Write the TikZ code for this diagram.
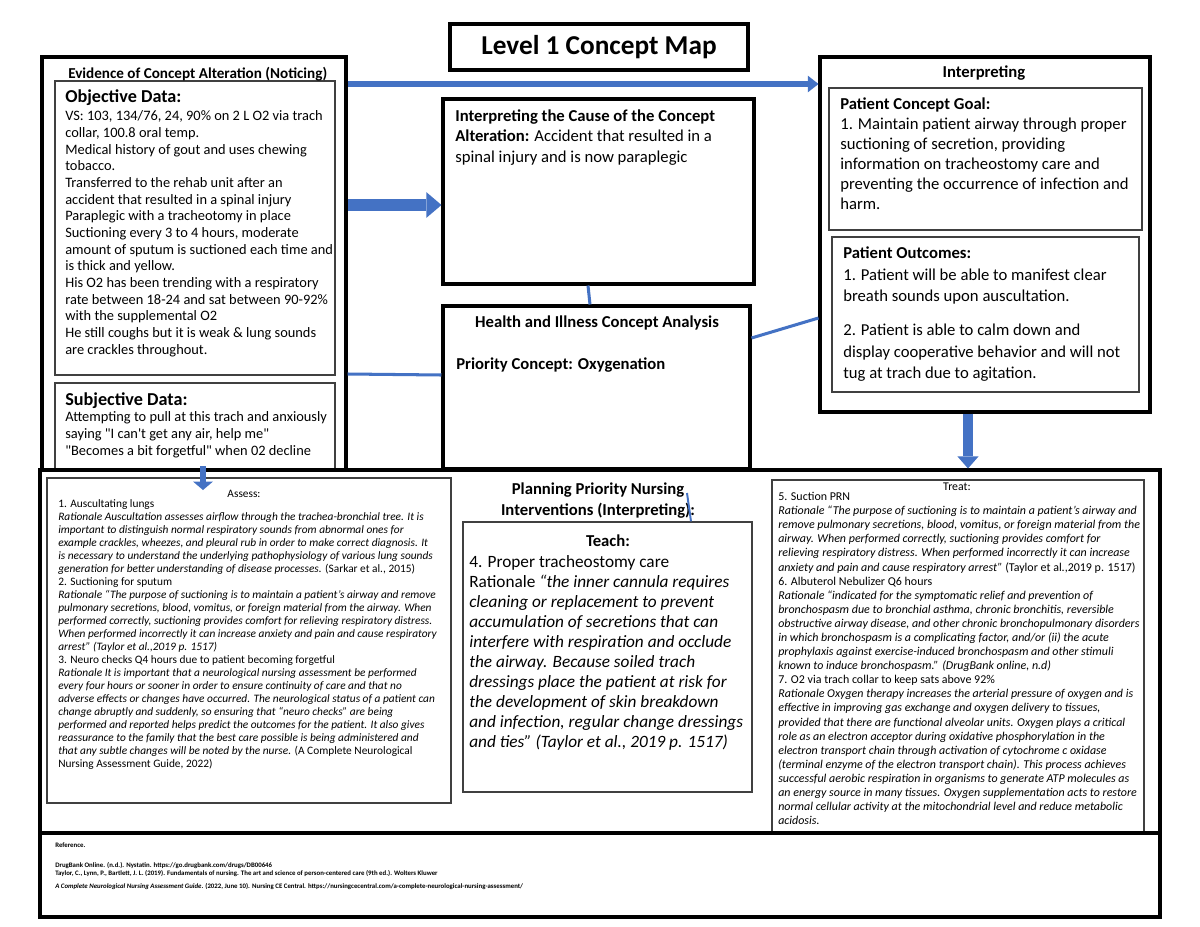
\documentclass[tikz,border=0pt]{standalone}
\usepackage{fontspec}
\setmainfont{Carlito}
\usetikzlibrary{arrows.meta,fit}
\definecolor{ofblue}{HTML}{4472C4}
\newcommand\fs[2]{\fontsize{#1}{#2}\selectfont}
\newcommand\sq{\textquotedbl}
\tikzset{
  thickbox/.style={draw=black, line width=2pt, inner sep=0pt},
  thinbox/.style={draw=black!75, line width=0.9pt, inner sep=0pt},
  txt/.style={inner sep=0pt, anchor=north west, align=left},
  lbl/.style={inner sep=0pt, anchor=west},
  conn/.style={draw=ofblue, line width=2pt},
  bigarrow/.style={draw=ofblue, line width=4pt, -{Triangle[length=7pt,width=11pt,line width=0pt]}},
  midarrow/.style={draw=ofblue, line width=8pt, -{Triangle[length=10pt,width=17pt,line width=0pt]}},
  downarrow/.style={draw=ofblue, line width=6pt, -{Triangle[length=8pt,width=14pt,line width=0pt]}},
  smallarrow/.style={draw=ofblue, line width=4.5pt, -{Triangle[length=5.5pt,width=13pt,line width=0pt]}},
}
\begin{document}
\begin{tikzpicture}[x=0.66pt,y=-0.66pt]
\useasboundingbox[fill=white] (0,0) rectangle (1200,927);

% ---------- boxes ----------
\path (450,24) coordinate (t1) (748,70) coordinate (t2);
\node[thickbox, fit=(t1)(t2)] (titlebox) {};
\path (42,57) coordinate (e1) (346,470) coordinate (e2);
\node[thickbox, fit=(e1)(e2)] (evid) {};
\path (55,81) coordinate (o1) (335,375) coordinate (o2);
\node[thinbox, fit=(o1)(o2)] (obj) {};
\path (55,383) coordinate (s1) (335,470) coordinate (s2);
\node[thinbox, fit=(s1)(s2)] (subj) {};
\path (443,99) coordinate (c1) (754,284) coordinate (c2);
\node[thickbox, fit=(c1)(c2)] (cause) {};
\path (443,306) coordinate (h1) (750,469) coordinate (h2);
\node[thickbox, fit=(h1)(h2)] (health) {};
\path (820,57) coordinate (i1) (1150,412) coordinate (i2);
\node[thickbox, fit=(i1)(i2)] (interp) {};
\path (829,88) coordinate (g1) (1142,230) coordinate (g2);
\node[thinbox, fit=(g1)(g2)] (goal) {};
\path (832,237) coordinate (u1) (1139,392) coordinate (u2);
\node[thinbox, fit=(u1)(u2)] (outc) {};
\path (40,470) coordinate (b1) (1160,833) coordinate (b2);
\node[thickbox, fit=(b1)(b2)] (bottom) {};
\path (47,478) coordinate (a1) (451,803) coordinate (a2);
\node[thinbox, fit=(a1)(a2)] (assess) {};
\path (463,522) coordinate (k1) (752,792) coordinate (k2);
\node[thinbox, fit=(k1)(k2)] (teach) {};
\path (772,480) coordinate (r1) (1144,833) coordinate (r2);
\node[thinbox, fit=(r1)(r2)] (treat) {};
\path (40,833) coordinate (f1) (1160,917) coordinate (f2);
\node[thickbox, fit=(f1)(f2)] (refbox) {};

% ---------- texts ----------
\node[inner sep=0pt, font=\fs{18}{22}\bfseries] (title) at (titlebox.center) {Level 1 Concept Map};

\node[lbl, font=\fs{10}{12}\bfseries] (evidtitle) at (68,74) {Evidence of Concept Alteration (Noticing)};
\node[lbl, font=\fs{12}{14}\bfseries] (objhead) at (65,98) {Objective Data:};
\node[txt, font=\fs{9.5}{11}] (objbody) at (65,110.5) {VS: 103, 134/76, 24, 90\% on 2 L O2 via trach\\
collar, 100.8 oral temp.\\
Medical history of gout and uses chewing\\
tobacco.\\
Transferred to the rehab unit after an\\
accident that resulted in a spinal injury\\
Paraplegic with a tracheotomy in place\\
Suctioning every 3 to 4 hours, moderate\\
amount of sputum is suctioned each time and\\
is thick and yellow.\\
His O2 has been trending with a respiratory\\
rate between 18-24 and sat between 90-92\%\\
with the supplemental O2\\
He still coughs but it is weak \& lung sounds\\
are crackles throughout.};
\node[lbl, font=\fs{12}{14}\bfseries] (subjhead) at (65,401) {Subjective Data:};
\node[txt, font=\fs{9.5}{11}] (subjbody) at (65,411.5) {Attempting to pull at this trach and anxiously\\
saying \sq I can\textquotesingle t get any air, help me\sq\\
\sq Becomes a bit forgetful\sq\ when 02 decline};

\node[txt, font=\fs{11}{13.5}] (causetext) at (455,109.5) {\textbf{Interpreting the Cause of the Concept}\\
\textbf{Alteration:} Accident that resulted in a\\
spinal injury and is now paraplegic};

\node[inner sep=0pt, font=\fs{11}{13}\bfseries] (healthhead) at (597,323) {Health and Illness Concept Analysis};
\node[lbl, font=\fs{11}{13}\bfseries] (priority) at (456,365) {Priority Concept: Oxygenation};

\node[inner sep=0pt, font=\fs{11}{13}\bfseries] (interphead) at (984,73) {Interpreting};
\node[txt, font=\fs{11}{13.2}] (goaltext) at (840,97.5) {\textbf{Patient Concept Goal:}\\
1. Maintain patient airway through proper\\
suctioning of secretion, providing\\
information on tracheostomy care and\\
preventing the occurrence of infection and\\
harm.};
\node[txt, font=\fs{11}{14.3}] (outtext) at (843,246.5) {\textbf{Patient Outcomes:}\\
1. Patient will be able to manifest clear\\
breath sounds upon auscultation.\\[8pt]
2. Patient is able to calm down and\\
display cooperative behavior and will not\\
tug at trach due to agitation.};

% Assess
\node[inner sep=0pt, font=\fs{7.5}{9}] (assesshead) at (244,494) {Assess:};
\node[txt, font=\fs{7.5}{8.6}] (assessbody) at (58,499) {1. Auscultating lungs\\
\textit{Rationale Auscultation assesses airflow through the trachea-bronchial tree. It is}\\
\textit{important to distinguish normal respiratory sounds from abnormal ones for}\\
\textit{example crackles, wheezes, and pleural rub in order to make correct diagnosis. It}\\
\textit{is necessary to understand the underlying pathophysiology of various lung sounds}\\
\textit{generation for better understanding of disease processes.} (Sarkar et al., 2015)\\
2. Suctioning for sputum\\
\textit{Rationale “The purpose of suctioning is to maintain a patient’s airway and remove}\\
\textit{pulmonary secretions, blood, vomitus, or foreign material from the airway. When}\\
\textit{performed correctly, suctioning provides comfort for relieving respiratory distress.}\\
\textit{When performed incorrectly it can increase anxiety and pain and cause respiratory}\\
\textit{arrest” (Taylor et al.,2019 p. 1517)}\\
3. Neuro checks Q4 hours due to patient becoming forgetful\\
\textit{Rationale It is important that a neurological nursing assessment be performed}\\
\textit{every four hours or sooner in order to ensure continuity of care and that no}\\
\textit{adverse effects or changes have occurred. The neurological status of a patient can}\\
\textit{change abruptly and suddenly, so ensuring that “neuro checks” are being}\\
\textit{performed and reported helps predict the outcomes for the patient. It also gives}\\
\textit{reassurance to the family that the best care possible is being administered and}\\
\textit{that any subtle changes will be noted by the nurse.} (A Complete Neurological\\
Nursing Assessment Guide, 2022)};

% Planning / Teach
\node[inner sep=0pt, align=center, font=\fs{11}{13.8}\bfseries, anchor=north] (planhead) at (598,482.5) {Planning Priority Nursing\\Interventions (Interpreting):};
\node[inner sep=0pt, font=\fs{11}{13}\bfseries] (teachhead) at (608,541) {Teach:};
\node[txt, font=\fs{11.4}{13.2}] (teachbody) at (469,555) {4. Proper tracheostomy care\\
Rationale \textit{“the inner cannula requires}\\
\textit{cleaning or replacement to prevent}\\
\textit{accumulation of secretions that can}\\
\textit{interfere with respiration and occlude}\\
\textit{the airway. Because soiled trach}\\
\textit{dressings place the patient at risk for}\\
\textit{the development of skin breakdown}\\
\textit{and infection, regular change dressings}\\
\textit{and ties” (Taylor et al., 2019 p. 1517)}};

% Treat
\node[inner sep=0pt, font=\fs{7.8}{9}] (treathead) at (957,487) {Treat:};
\node[txt, font=\fs{7.9}{9.3}] (treatbody) at (778,492) {5. Suction PRN\\
\textit{Rationale “The purpose of suctioning is to maintain a patient’s airway and}\\
\textit{remove pulmonary secretions, blood, vomitus, or foreign material from the}\\
\textit{airway. When performed correctly, suctioning provides comfort for}\\
\textit{relieving respiratory distress. When performed incorrectly it can increase}\\
\textit{anxiety and pain and cause respiratory arrest”} (Taylor et al.,2019 p. 1517)\\
6. Albuterol Nebulizer Q6 hours\\
\textit{Rationale “indicated for the symptomatic relief and prevention of}\\
\textit{bronchospasm due to bronchial asthma, chronic bronchitis, reversible}\\
\textit{obstructive airway disease, and other chronic bronchopulmonary disorders}\\
\textit{in which bronchospasm is a complicating factor, and/or (ii) the acute}\\
\textit{prophylaxis against exercise-induced bronchospasm and other stimuli}\\
\textit{known to induce bronchospasm.” (DrugBank online, n.d)}\\
7. O2 via trach collar to keep sats above 92\%\\
\textit{Rationale Oxygen therapy increases the arterial pressure of oxygen and is}\\
\textit{effective in improving gas exchange and oxygen delivery to tissues,}\\
\textit{provided that there are functional alveolar units. Oxygen plays a critical}\\
\textit{role as an electron acceptor during oxidative phosphorylation in the}\\
\textit{electron transport chain through activation of cytochrome c oxidase}\\
\textit{(terminal enzyme of the electron transport chain). This process achieves}\\
\textit{successful aerobic respiration in organisms to generate ATP molecules as}\\
\textit{an energy source in many tissues. Oxygen supplementation acts to restore}\\
\textit{normal cellular activity at the mitochondrial level and reduce metabolic}\\
\textit{acidosis.}};

% References
\node[lbl, font=\fs{4.5}{5.5}\bfseries] (refhead) at (55,845) {Reference.};
\node[txt, font=\fs{4.5}{5.2}\bfseries] (refone) at (55,862) {DrugBank Online. (n.d.). Nystatin. https://go.drugbank.com/drugs/DB00646\\
Taylor, C., Lynn, P., Bartlett, J. L. (2019). Fundamentals of nursing. The art and science of person-centered care (9th ed.). Wolters Kluwer};
\node[lbl, font=\fs{4.5}{5.5}\bfseries] (reftwo) at (55,887) {\textit{A Complete Neurological Nursing Assessment Guide}. (2022, June 10). Nursing CE Central. https://nursingcecentral.com/a-complete-neurological-nursing-assessment/};

% ---------- connectors ----------
\coordinate (ya) at (0,84);
\draw[bigarrow] (evid.east |- ya) -- (interp.west |- ya);
\coordinate (yb) at (0,205);
\draw[midarrow] (evid.east |- yb) -- (cause.west |- yb);
\coordinate (xc) at (968,0);
\draw[downarrow] (interp.south -| xc) -- (bottom.north -| xc);
\coordinate (sdstart) at (203,466);
\coordinate (sdend) at (203,490);
\draw[smallarrow] (sdstart) -- (sdend);
\coordinate (xl1) at (588,0);
\coordinate (xl2) at (590,0);
\draw[conn] (cause.south -| xl1) -- (health.north -| xl2);
\coordinate (yd1) at (0,374);
\coordinate (yd2) at (0,375);
\draw[conn] (evid.east |- yd1) -- (health.west |- yd2);
\coordinate (ye1) at (0,338);
\coordinate (ye2) at (0,318);
\draw[conn] (health.east |- ye1) -- (interp.west |- ye2);
\coordinate (hstart) at (687,493);
\coordinate (xh) at (691,0);
\draw[conn, line width=1.3pt] (hstart) -- (teach.north -| xh);
\end{tikzpicture}
\end{document}
